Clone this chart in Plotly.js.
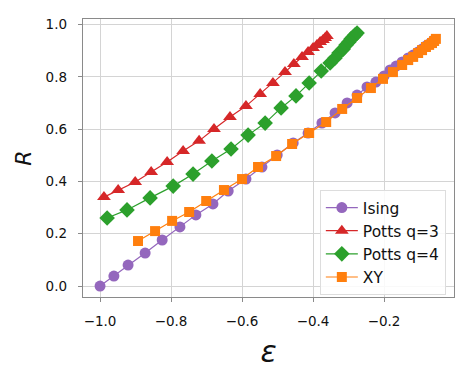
<!DOCTYPE html>
<html>
<head>
<meta charset="utf-8">
<script src="https://cdn.plot.ly/plotly-3.0.1.min.js"></script>
<style>html,body{margin:0;padding:0;background:#fff;}#chart{width:474px;height:379px;}</style>
</head>
<body>
<div id="chart"></div>
<script>
// Ising
const isingE = [-1.000,-0.961,-0.921,-0.873,-0.825,-0.775,-0.730,-0.682,-0.639,-0.589,-0.544,-0.501,-0.456,-0.414,-0.375,-0.338,-0.304,-0.276,-0.248,-0.223,-0.200,-0.183,-0.166,-0.149,-0.132,-0.118,-0.104,-0.093,-0.082,-0.073,-0.065,-0.059];
const isingR = [0.000,0.038,0.080,0.126,0.176,0.226,0.272,0.314,0.363,0.409,0.455,0.501,0.547,0.585,0.623,0.662,0.700,0.730,0.761,0.780,0.803,0.826,0.841,0.857,0.872,0.883,0.895,0.906,0.918,0.925,0.933,0.941];
// Potts q=3
const potts3E = [-0.989,-0.949,-0.901,-0.856,-0.811,-0.766,-0.721,-0.679,-0.634,-0.589,-0.549,-0.513,-0.479,-0.454,-0.431,-0.414,-0.400,-0.389,-0.380,-0.372,-0.366,-0.361];
const potts3R = [0.340,0.367,0.398,0.436,0.474,0.516,0.555,0.600,0.646,0.688,0.734,0.776,0.818,0.849,0.876,0.895,0.910,0.922,0.933,0.941,0.948,0.956];
// Potts q=4
const potts4E = [-0.980,-0.924,-0.859,-0.794,-0.738,-0.685,-0.631,-0.583,-0.535,-0.490,-0.448,-0.411,-0.377,-0.352,-0.338,-0.327,-0.315,-0.307,-0.299,-0.293,-0.287,-0.282,-0.276];
const potts4R = [0.260,0.291,0.337,0.382,0.428,0.478,0.524,0.577,0.623,0.681,0.727,0.776,0.822,0.853,0.872,0.891,0.906,0.922,0.933,0.945,0.952,0.960,0.967];
// XY
const xyE = [-0.893,-0.845,-0.797,-0.749,-0.701,-0.651,-0.600,-0.555,-0.504,-0.459,-0.411,-0.363,-0.318,-0.276,-0.237,-0.203,-0.175,-0.149,-0.132,-0.118,-0.104,-0.093,-0.082,-0.073,-0.065,-0.059,-0.054];
const xyR = [0.172,0.210,0.249,0.283,0.325,0.367,0.409,0.455,0.497,0.543,0.585,0.627,0.677,0.719,0.757,0.792,0.818,0.845,0.864,0.876,0.891,0.902,0.914,0.922,0.929,0.937,0.945];

const xTicks = [-1.0,-0.8,-0.6,-0.4,-0.2];
const xTickText = ["\u22121.0","\u22120.8","\u22120.6","\u22120.4","\u22120.2"];
const yTicks = [0.0,0.2,0.4,0.6,0.8,1.0];
const yTickText = ["0.0","0.2","0.4","0.6","0.8","1.0"];

function tr(name, x, y, color, symbol, size) {
  return {type:'scatter', mode:'lines+markers', name:name, x:x, y:y,
    line:{color:color, width:1.2},
    marker:{color:color, symbol:symbol, size:size, line:{width:0}}};
}
const data = [
  tr('Ising', isingE, isingR, '#9467bd', 'circle', 11),
  tr('Potts q=3', potts3E, potts3R, '#d62728', 'triangle-up', 12),
  tr('Potts q=4', potts4E, potts4R, '#2ca02c', 'diamond', 12),
  tr('XY', xyE, xyR, '#ff7f0e', 'square', 10)
];
const axCommon = {showline:true, mirror:true, linecolor:'#8a8a8a', linewidth:1.2,
  ticks:'outside', ticklen:4, tickcolor:'#8a8a8a', showgrid:true, gridcolor:'#d4d4d4', gridwidth:1,
  zeroline:false, tickfont:{family:'DejaVu Sans', size:13.5, color:'#111'}};
const layout = {
  width:474, height:379,
  margin:{l:83, r:20, t:19, b:82},
  paper_bgcolor:'#fff', plot_bgcolor:'#fff',
  font:{family:'DejaVu Sans', color:'#111'},
  xaxis:Object.assign({}, axCommon, {range:[-1.048,-0.003], tickvals:xTicks, ticktext:xTickText,
    ticklabelstandoff:8,
    title:{text:'<i>ε</i>', font:{family:'DejaVu Sans', size:30}, standoff:12}}),
  yaxis:Object.assign({}, axCommon, {range:[-0.042,1.021], tickvals:yTicks, ticktext:yTickText,
    ticklabelstandoff:8,
    title:{text:'<i>R</i>', font:{family:'DejaVu Sans', size:22}, standoff:8}}),
  showlegend:true,
  legend:{x:0.978, xanchor:'right', y:0.385, yanchor:'top', bgcolor:'rgba(255,255,255,0.85)',
    bordercolor:'#dddddd', borderwidth:1, font:{family:'DejaVu Sans', size:15.5, color:'#111'},
    tracegroupgap:0, itemwidth:32}
};
Plotly.newPlot('chart', data, layout, {displayModeBar:false, staticPlot:true});
</script>
</body>
</html>
